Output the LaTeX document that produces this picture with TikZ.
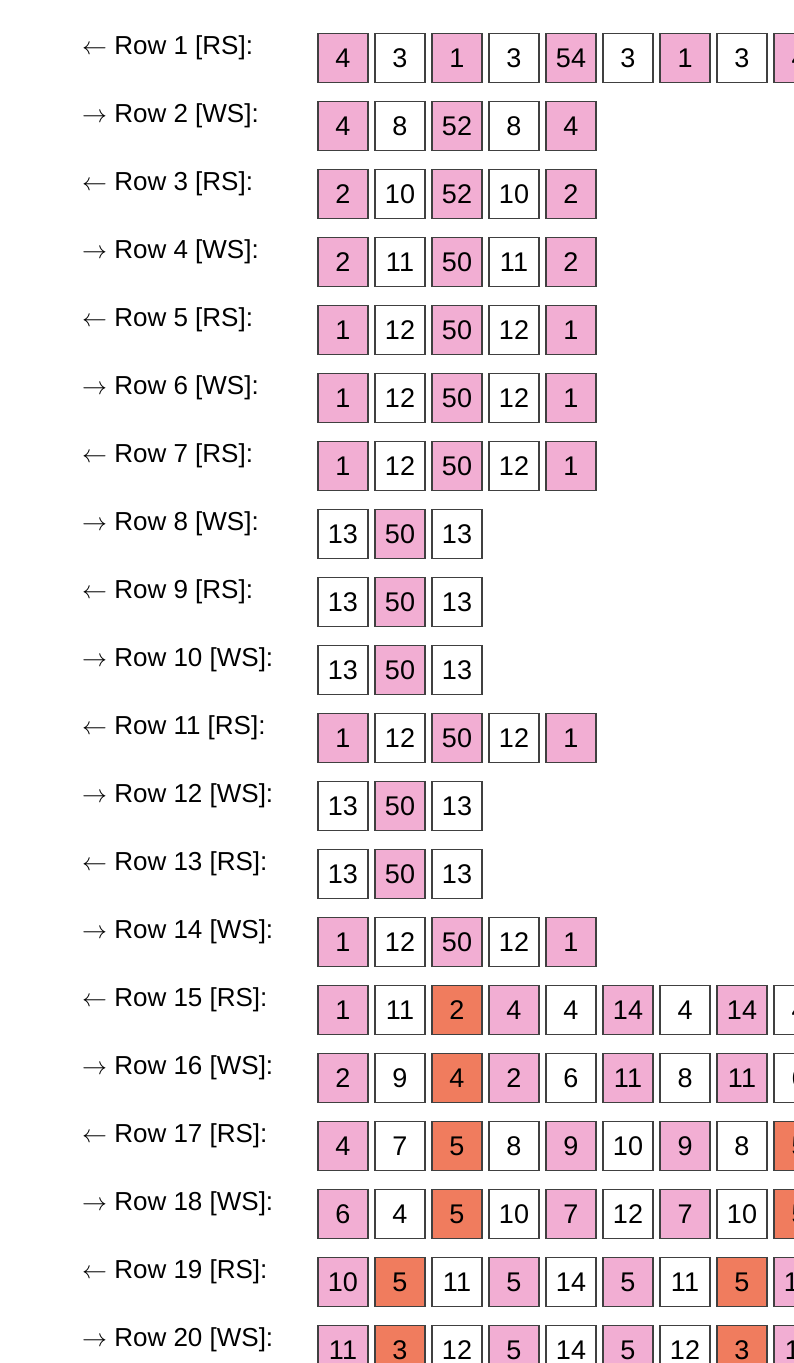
\documentclass[tikz,border=0pt]{standalone}
\usepackage{fontspec}
\setmainfont{Liberation Sans}
\definecolor{pk}{HTML}{F2AED3}
\definecolor{og}{HTML}{F07C5E}
\tikzset{cellbox/.style={draw=black!75,line width=1.2pt,minimum width=50pt,minimum height=49pt,inner sep=0pt,font=\fontsize{27}{27}\selectfont},
P/.style={cellbox,fill=pk},W/.style={cellbox,fill=white},O/.style={cellbox,fill=og},
rowlab/.style={anchor=west,inner sep=0pt,font=\fontsize{26}{26}\selectfont}}
\begin{document}
\begin{tikzpicture}[x=1pt,y=-1pt]
\useasboundingbox (0,0) rectangle (794,1363);
\clip (0,0) rectangle (794,1363);
\foreach \r/\cells in {
1/{P/4,W/3,P/1,W/3,P/54,W/3,P/1,W/3,P/4},
2/{P/4,W/8,P/52,W/8,P/4},
3/{P/2,W/10,P/52,W/10,P/2},
4/{P/2,W/11,P/50,W/11,P/2},
5/{P/1,W/12,P/50,W/12,P/1},
6/{P/1,W/12,P/50,W/12,P/1},
7/{P/1,W/12,P/50,W/12,P/1},
8/{W/13,P/50,W/13},
9/{W/13,P/50,W/13},
10/{W/13,P/50,W/13},
11/{P/1,W/12,P/50,W/12,P/1},
12/{W/13,P/50,W/13},
13/{W/13,P/50,W/13},
14/{P/1,W/12,P/50,W/12,P/1},
15/{P/1,W/11,O/2,P/4,W/4,P/14,W/4,P/14,W/4},
16/{P/2,W/9,O/4,P/2,W/6,P/11,W/8,P/11,W/6},
17/{P/4,W/7,O/5,W/8,P/9,W/10,P/9,W/8,O/5},
18/{P/6,W/4,O/5,W/10,P/7,W/12,P/7,W/10,O/5},
19/{P/10,O/5,W/11,P/5,W/14,P/5,W/11,O/5,P/10},
20/{P/11,O/3,W/12,P/5,W/14,P/5,W/12,O/3,P/11}}{
  \pgfmathsetmacro{\yy}{58+(\r-1)*68}
  \pgfmathtruncatemacro{\odd}{mod(\r,2)}
  \ifnum\odd=1
    \node[rowlab] (lab\r) at (82,\yy-10) {$\leftarrow$ Row \r\ [RS]:};
  \else
    \node[rowlab] (lab\r) at (82,\yy-10) {$\rightarrow$ Row \r\ [WS]:};
  \fi
  \foreach \s/\v [count=\i from 0] in \cells {
    \node[\s] (c\r-\i) at (343+57*\i,\yy) {\v};
  }
}
\end{tikzpicture}
\end{document}
